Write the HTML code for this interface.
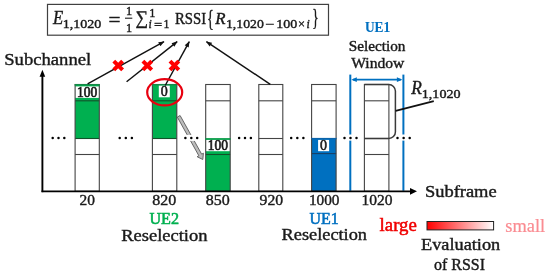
<!DOCTYPE html>
<html>
<head>
<meta charset="utf-8">
<title>RSSI evaluation diagram</title>
<style>
html,body{margin:0;padding:0;background:#fff;}
body{width:550px;height:277px;overflow:hidden;}
svg{display:block;}
text{font-family:"Liberation Serif",serif;fill:#1a1a1a;stroke:#1a1a1a;stroke-width:0.4;}
.it{font-style:italic;}
.b{font-weight:bold;}
.lb{stroke-width:0.7;}
.sb{stroke-width:0.38;}
.col{fill:#fff;stroke:#444444;stroke-width:1.1;}
.ln{stroke:#444444;stroke-width:1.1;fill:none;}
.ar{stroke:#111;stroke-width:1.45;fill:none;}
.dot{fill:#000;}
</style>
</head>
<body>
<svg width="550" height="277" viewBox="0 0 550 277">
<defs>
  <marker id="ah" markerWidth="7" markerHeight="5" refX="6" refY="2.5" orient="auto" markerUnits="userSpaceOnUse">
    <path d="M0.6,0.2 L6.4,2.5 L0.6,4.8 Z" fill="#111"/>
  </marker>
  <linearGradient id="rg" x1="0" y1="0" x2="1" y2="0">
    <stop offset="0" stop-color="#ff0000"/>
    <stop offset="1" stop-color="#ffffff"/>
  </linearGradient>
</defs>
<rect x="0" y="0" width="550" height="277" fill="#fff"/>

<!-- formula box -->
<rect x="47.5" y="4.4" width="281" height="30.8" fill="#fff" stroke="#404040" stroke-width="1.2"/>
<g id="formula">
  <text class="it" x="53" y="24" font-size="18" textLength="10.2" lengthAdjust="spacingAndGlyphs">E</text>
  <text class="sb" x="62.8" y="27.9" font-size="11.8" textLength="38.6" lengthAdjust="spacingAndGlyphs">1,1020</text>
  <text class="sb" x="108.5" y="25.6" font-size="18" textLength="12" lengthAdjust="spacingAndGlyphs">=</text>
  <text class="sb" x="126" y="14.5" font-size="12.3">1</text>
  <line x1="125" y1="18.2" x2="132.3" y2="18.2" stroke="#1a1a1a" stroke-width="1.1"/>
  <text class="sb" x="126" y="32.1" font-size="12.3">1</text>
  <text x="135.5" y="23.8" font-size="19" textLength="12.6" lengthAdjust="spacingAndGlyphs">∑</text>
  <text class="sb" x="149.3" y="17" font-size="12.3">1</text>
  <text class="sb it" x="148.6" y="28.3" font-size="11.8">i</text>
  <text class="sb" x="154" y="28.6" font-size="11.8" textLength="8.2" lengthAdjust="spacingAndGlyphs">=</text>
  <text class="sb" x="163.6" y="28.3" font-size="11.8">1</text>
  <text x="175" y="24" font-size="17.3" textLength="31.2" lengthAdjust="spacingAndGlyphs">RSSI</text>
  <text x="206.9" y="25.6" font-size="22.5" textLength="6.8" lengthAdjust="spacingAndGlyphs">{</text>
  <text class="it" x="215.2" y="24" font-size="17.5" textLength="10.3" lengthAdjust="spacingAndGlyphs">R</text>
  <text class="sb" x="226" y="27.9" font-size="11.8" textLength="37.8" lengthAdjust="spacingAndGlyphs">1,1020</text>
  <text class="sb" x="265.3" y="27.9" font-size="11.8" textLength="9.1" lengthAdjust="spacingAndGlyphs">−</text>
  <text class="sb" x="276.3" y="27.9" font-size="11.8" textLength="21" lengthAdjust="spacingAndGlyphs">100</text>
  <text class="sb" x="298" y="27.9" font-size="11.8" textLength="7" lengthAdjust="spacingAndGlyphs">×</text>
  <text class="sb it" x="306.5" y="27.9" font-size="11.8">i</text>
  <text x="312.2" y="25.4" font-size="24" textLength="6.4" lengthAdjust="spacingAndGlyphs">}</text>
</g>

<!-- Subchannel -->
<text x="4.2" y="64.5" font-size="17.2" textLength="87" lengthAdjust="spacingAndGlyphs">Subchannel</text>

<!-- columns -->
<g id="cols">
  <!-- col1 -->
  <rect x="75.1" y="84.5" width="24.2" height="106.8" fill="#fff"/>
  <rect x="75.1" y="84.5" width="24.2" height="54.0" fill="#00b050"/>
  <rect x="75.1" y="86.4" width="24.2" height="11.5" fill="#fff"/>
  <text class="lb" x="87.2" y="97.1" font-size="14.8" text-anchor="middle" textLength="20.2" lengthAdjust="spacingAndGlyphs">100</text>
  <line class="ln" x1="75.1" y1="100.8" x2="99.3" y2="100.8" style="stroke:#12522a"/>
  <line class="ln" x1="75.1" y1="138.5" x2="99.3" y2="138.5" style="stroke:#12522a"/>
  <line class="ln" x1="75.1" y1="154.5" x2="99.3" y2="154.5"/>
  <rect class="col" x="75.1" y="84.5" width="24.2" height="106.8" style="fill:none"/>
  <line x1="74.6" y1="84.9" x2="99.8" y2="84.9" stroke="#0a9a48" stroke-width="1.4"/>
  <!-- col2 -->
  <rect x="152.4" y="84.5" width="24.4" height="106.8" fill="#fff"/>
  <rect x="152.4" y="84.5" width="24.4" height="54.0" fill="#00b050"/>
  <rect x="158.8" y="85.1" width="11" height="12.2" fill="#fff"/>
  <text class="lb" x="164.3" y="96.2" font-size="14" text-anchor="middle" style="stroke-width:0.55">0</text>
  <line class="ln" x1="152.4" y1="100.8" x2="176.8" y2="100.8" style="stroke:#12522a"/>
  <line class="ln" x1="152.4" y1="138.5" x2="176.8" y2="138.5" style="stroke:#12522a"/>
  <line class="ln" x1="152.4" y1="154.5" x2="176.8" y2="154.5"/>
  <rect class="col" x="152.4" y="84.5" width="24.4" height="106.8" style="fill:none"/>
  <line x1="151.9" y1="84.9" x2="177.3" y2="84.9" stroke="#0a9a48" stroke-width="1.4"/>
  <!-- col3 -->
  <rect x="205.7" y="84.5" width="24.5" height="106.8" fill="#fff"/>
  <rect x="205.7" y="138.5" width="24.5" height="52.8" fill="#00b050"/>
  <rect x="205.7" y="139.8" width="24.5" height="11.4" fill="#fff"/>
  <text class="lb" x="217.9" y="150.4" font-size="14.8" text-anchor="middle" textLength="20.2" lengthAdjust="spacingAndGlyphs">100</text>
  <line class="ln" x1="205.7" y1="100.8" x2="230.2" y2="100.8"/>
  <line class="ln" x1="205.7" y1="154.5" x2="230.2" y2="154.5" style="stroke:#12522a"/>
  <rect class="col" x="205.7" y="84.5" width="24.5" height="106.8" style="fill:none"/>
  <line x1="205.2" y1="138.9" x2="230.7" y2="138.9" stroke="#0a9a48" stroke-width="1.4"/>
  <!-- col4 -->
  <rect x="258.8" y="84.5" width="24.0" height="106.8" fill="#fff"/>
  <line class="ln" x1="258.8" y1="100.8" x2="282.8" y2="100.8"/>
  <line class="ln" x1="258.8" y1="138.5" x2="282.8" y2="138.5"/>
  <line class="ln" x1="258.8" y1="154.5" x2="282.8" y2="154.5"/>
  <rect class="col" x="258.8" y="84.5" width="24.0" height="106.8" style="fill:none"/>
  <!-- col5 -->
  <rect x="311.6" y="84.5" width="24.5" height="106.8" fill="#fff"/>
  <rect x="311.6" y="138.2" width="24.5" height="53.1" fill="#0070c0"/>
  <rect x="318.1" y="139.9" width="11" height="11.3" fill="#fff"/>
  <text class="lb" x="323.6" y="150.1" font-size="14" text-anchor="middle" style="stroke-width:0.55">0</text>
  <line class="ln" x1="311.6" y1="100.8" x2="336.1" y2="100.8"/>
  <line class="ln" x1="311.6" y1="153.6" x2="336.1" y2="153.6" style="stroke:#173f66"/>
  <rect class="col" x="311.6" y="84.5" width="24.5" height="106.8" style="fill:none"/>
  <line x1="311.1" y1="138.6" x2="336.6" y2="138.6" stroke="#0b64ab" stroke-width="1.4"/>
  <!-- col6 -->
  <rect x="364.4" y="84.5" width="24.5" height="106.8" fill="#fff"/>
  <line class="ln" x1="364.4" y1="100.8" x2="388.9" y2="100.8"/>
  <line class="ln" x1="364.4" y1="138.5" x2="388.9" y2="138.5"/>
  <line class="ln" x1="364.4" y1="154.5" x2="388.9" y2="154.5"/>
  <rect class="col" x="364.4" y="84.5" width="24.5" height="106.8" style="fill:none"/>
  <path d="M364.4,84.5 H388.8 A6.6,6.6 0 0 1 395.4,91.1 V131.9 A6.6,6.6 0 0 1 388.8,138.5 H364.4" fill="none" stroke="#3a3a3a" stroke-width="1.5"/>
</g>

<!-- blue selection window -->
<g stroke="#0070c0" stroke-width="2" fill="none">
  <line x1="350.3" y1="74.6" x2="350.3" y2="134.5"/>
  <line x1="350.3" y1="140.6" x2="350.3" y2="190.8"/>
  <line x1="403.4" y1="74.6" x2="403.4" y2="134.5"/>
  <line x1="403.4" y1="140.6" x2="403.4" y2="190.8"/>
  <line x1="353" y1="79.7" x2="400.7" y2="79.7" stroke-width="1.7"/>
</g>
<path d="M351.3,79.7 L356.8,77.3 L356.8,82.1 Z" fill="#0070c0"/>
<path d="M402.4,79.7 L396.9,77.3 L396.9,82.1 Z" fill="#0070c0"/>

<!-- axes -->
<g stroke="#000" stroke-width="1.7" fill="none">
  <line x1="42.4" y1="76" x2="42.4" y2="192.15" stroke-width="1.9"/>
  <line x1="41.55" y1="191.3" x2="411" y2="191.3"/>
</g>
<path d="M42.4,69.8 L39.6,76.8 L45.2,76.8 Z" fill="#000"/>
<path d="M417,191.3 L410,187.9 L410,194.7 Z" fill="#000"/>

<!-- arrows to formula -->
<g class="ar">
  <line x1="87.6" y1="83.8" x2="164" y2="41.6" marker-end="url(#ah)"/>
  <line x1="126.6" y1="81.8" x2="177.2" y2="41.6" marker-end="url(#ah)"/>
  <line x1="165.2" y1="85.5" x2="189.3" y2="41.6" marker-end="url(#ah)"/>
  <line x1="270.3" y1="84.3" x2="206.4" y2="41.7" marker-end="url(#ah)"/>
  <line x1="395.6" y1="110.8" x2="433.8" y2="101.2" stroke-width="1.8"/>
</g>

<!-- red crosses -->
<g stroke="#ff0000" stroke-width="4" stroke-linecap="butt">
  <path d="M113.8,61.1 L122.6,69.9 M122.6,61.1 L113.8,69.9"/>
  <path d="M142.9,61.1 L151.7,69.9 M151.7,61.1 L142.9,69.9"/>
  <path d="M170.0,61.1 L178.8,69.9 M178.8,61.1 L170.0,69.9"/>
</g>

<!-- red ellipse -->
<ellipse cx="164.7" cy="92.3" rx="17.5" ry="13.1" fill="none" stroke="#e8000f" stroke-width="2.2"/>

<!-- gray arrow -->
<path d="M180.10,115.52 L201.66,154.18 L203.41,153.20 L202.80,159.50 L197.12,156.71 L198.87,155.74 L177.30,117.08 Z" fill="#bcbcbc" stroke="#595959" stroke-width="0.9" stroke-linejoin="miter"/>


<!-- dots -->
<g class="dot">
  <circle cx="52.7" cy="137.9" r="1.25"/><circle cx="58.5" cy="137.9" r="1.25"/><circle cx="64.3" cy="137.9" r="1.25"/>
  <circle cx="119.7" cy="137.9" r="1.25"/><circle cx="125.8" cy="137.9" r="1.25"/><circle cx="131.9" cy="137.9" r="1.25"/>
  <rect x="182.8" y="134.9" width="17" height="6" fill="#fff"/>
  <circle cx="185.4" cy="137.9" r="1.25"/><circle cx="191.3" cy="137.9" r="1.25"/><circle cx="197.2" cy="137.9" r="1.25"/>
  <circle cx="239.1" cy="137.9" r="1.25"/><circle cx="245.0" cy="137.9" r="1.25"/><circle cx="250.9" cy="137.9" r="1.25"/>
  <circle cx="291.2" cy="137.9" r="1.25"/><circle cx="297.3" cy="137.9" r="1.25"/><circle cx="303.4" cy="137.9" r="1.25"/>
  <circle cx="344.5" cy="137.9" r="1.25"/><circle cx="350.5" cy="137.9" r="1.25"/><circle cx="356.5" cy="137.9" r="1.25"/>
  <circle cx="397.5" cy="137.9" r="1.25"/><circle cx="403.6" cy="137.9" r="1.25"/><circle cx="409.7" cy="137.9" r="1.25"/>
</g>


<!-- x labels -->
<g font-size="15.2" text-anchor="middle">
  <text x="87.3" y="205.3" textLength="15.4" lengthAdjust="spacingAndGlyphs">20</text>
  <text x="164.3" y="205.3" textLength="24" lengthAdjust="spacingAndGlyphs">820</text>
  <text x="217.8" y="205.3" textLength="24" lengthAdjust="spacingAndGlyphs">850</text>
  <text x="271.4" y="205.3" textLength="23.6" lengthAdjust="spacingAndGlyphs">920</text>
  <text x="324.2" y="205.3" textLength="30.6" lengthAdjust="spacingAndGlyphs">1000</text>
  <text x="376.9" y="205.3" textLength="31" lengthAdjust="spacingAndGlyphs">1020</text>
</g>

<!-- UE2 / UE1 reselection -->
<text x="164.2" y="223.9" font-size="16.8" text-anchor="middle" textLength="29.6" lengthAdjust="spacingAndGlyphs" style="fill:#00b050;stroke:#00b050;stroke-width:0.6">UE2</text>
<text x="121.2" y="240.5" font-size="17.3" textLength="86.3" lengthAdjust="spacingAndGlyphs">Reselection</text>
<text x="324.1" y="223.9" font-size="16.8" text-anchor="middle" textLength="29.2" lengthAdjust="spacingAndGlyphs" style="fill:#0070c0;stroke:#0070c0;stroke-width:0.6">UE1</text>
<text x="281.6" y="240.3" font-size="17.3" textLength="85.4" lengthAdjust="spacingAndGlyphs">Reselection</text>

<!-- selection window label -->
<text class="b" x="377.6" y="32.3" font-size="14.4" text-anchor="middle" textLength="25.3" lengthAdjust="spacingAndGlyphs" style="fill:#0070c0;stroke:#0070c0;stroke-width:0.1">UE1</text>
<text x="348.7" y="50.9" font-size="14.8" textLength="56.8" lengthAdjust="spacingAndGlyphs">Selection</text>
<text x="351.2" y="68.4" font-size="14.8" textLength="53.2" lengthAdjust="spacingAndGlyphs">Window</text>

<!-- R label -->
<text class="it" x="411.3" y="93.6" font-size="18" textLength="10.6" lengthAdjust="spacingAndGlyphs">R</text>
<text class="sb" x="421.8" y="98" font-size="11.8" textLength="38.8" lengthAdjust="spacingAndGlyphs">1,1020</text>

<!-- Subframe -->
<text x="424.9" y="197.2" font-size="16.5" textLength="71.8" lengthAdjust="spacingAndGlyphs">Subframe</text>

<!-- legend -->
<text x="379.6" y="231" font-size="18.3" textLength="37.2" lengthAdjust="spacingAndGlyphs" style="fill:#f00000;stroke:#f00000;stroke-width:0.5">large</text>
<rect x="427" y="221.5" width="66.6" height="8.4" fill="url(#rg)" stroke="#222" stroke-width="1"/>
<text x="505.3" y="231.8" font-size="18" textLength="39.8" lengthAdjust="spacingAndGlyphs" style="fill:#fa8c92;stroke:#fa8c92;stroke-width:0.2">small</text>
<text x="421" y="250" font-size="16.5" textLength="79.2" lengthAdjust="spacingAndGlyphs">Evaluation</text>
<text x="434" y="270.3" font-size="16.5" textLength="51" lengthAdjust="spacingAndGlyphs">of RSSI</text>
</svg>
</body>
</html>
